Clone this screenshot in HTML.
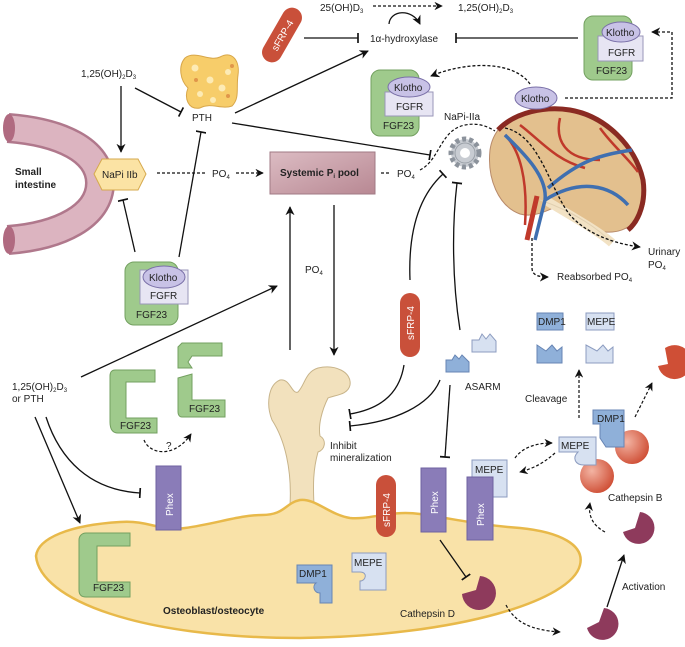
<!DOCTYPE html>
<html><head><meta charset="utf-8"><style>
html,body{margin:0;padding:0;background:#fff;width:685px;height:647px;overflow:hidden}
svg{display:block}
text{font-family:"Liberation Sans",Arial,sans-serif;font-size:10px;fill:#222}
.w{fill:#fff}
</style></head><body>
<svg width="685" height="647" viewBox="0 0 685 647" xmlns="http://www.w3.org/2000/svg">
<defs>
<marker id="ar" viewBox="0 0 10 10" refX="9" refY="5" markerWidth="7" markerHeight="7" orient="auto"><path d="M0,0 L10,5 L0,10 L3,5z" fill="#111"/></marker>
<marker id="bar" viewBox="0 0 10 10" refX="5" refY="5" markerWidth="8" markerHeight="8" orient="auto"><path d="M5,0 L5,10" stroke="#111" stroke-width="1.6"/></marker>
<linearGradient id="pool" x1="0" y1="0" x2="1" y2="1"><stop offset="0" stop-color="#dcbcc3"/><stop offset="1" stop-color="#b88893"/></linearGradient>
<radialGradient id="redb" cx="0.35" cy="0.35" r="0.7"><stop offset="0" stop-color="#f3b4a3"/><stop offset="1" stop-color="#cf4f36"/></radialGradient>
</defs>

<!-- intestine -->
<path d="M8,128 C60,132 100,150 100,183 C100,216 60,236 8,240" fill="none" stroke="#b0788c" stroke-width="30"/>
<path d="M8,128 C60,132 100,150 100,183 C100,216 60,236 8,240" fill="none" stroke="#dcb4c0" stroke-width="25"/>
<ellipse cx="9" cy="128" rx="6" ry="14" fill="#b06a80"/>
<ellipse cx="9" cy="240" rx="6" ry="14" fill="#b06a80"/>
<text x="15" y="175" font-weight="bold">Small</text>
<text x="15" y="188" font-weight="bold">intestine</text>
<polygon points="94,174 102,159 138,159 146,174 138,190 102,190" fill="#fbe3a4" stroke="#d6a94e"/>
<text x="102" y="178">NaPi IIb</text>

<text x="81" y="77">1,25(OH)<tspan font-size="6" dy="2">2</tspan><tspan dy="-2">D</tspan><tspan font-size="6" dy="2">3</tspan></text>
<line x1="121" y1="86" x2="121" y2="152" stroke="#111" stroke-width="1.3" marker-end="url(#ar)"/>
<line x1="135" y1="88" x2="181" y2="112" stroke="#111" stroke-width="1.3" marker-end="url(#bar)"/>

<!-- PTH gland -->
<path d="M185,58 C195,50 210,62 220,57 C233,50 240,62 238,75 C236,88 240,98 232,106 C222,110 210,102 200,108 C188,110 184,98 188,88 C180,80 178,66 185,58z" fill="#f7cd6a" stroke="#d8a74a"/>
<g fill="#fdebb5"><circle cx="195" cy="68" r="3.5"/><circle cx="210" cy="80" r="3.5"/><circle cx="200" cy="94" r="3"/><circle cx="222" cy="88" r="3.5"/><circle cx="213" cy="100" r="3"/><circle cx="228" cy="72" r="3"/></g>
<g fill="#e0964a"><circle cx="232" cy="66" r="2"/><circle cx="196" cy="80" r="2"/><circle cx="228" cy="96" r="2"/></g>
<text x="192" y="121" font-size="11">PTH</text>
<line x1="235" y1="113" x2="368" y2="51" stroke="#111" stroke-width="1.3" marker-end="url(#ar)"/>
<line x1="232" y1="123" x2="430" y2="155" stroke="#111" stroke-width="1.3" marker-end="url(#bar)"/>

<!-- sFRP top -->
<g transform="translate(282,35) rotate(-60)"><rect x="-30" y="-10" width="60" height="20" rx="10" fill="#c9503a"/><text class="w" x="-17" y="4">sFRP-4</text></g>
<line x1="304" y1="38" x2="358" y2="38" stroke="#111" stroke-width="1.3" marker-end="url(#bar)"/>
<text x="370" y="42">1α-hydroxylase</text>
<line x1="578" y1="38" x2="456" y2="38" stroke="#111" stroke-width="1.3" marker-end="url(#bar)"/>
<text x="320" y="11">25(OH)D<tspan font-size="6" dy="2">3</tspan></text>
<line x1="373" y1="6" x2="442" y2="6" stroke="#111" stroke-dasharray="3,2" stroke-width="1.2" marker-end="url(#ar)"/>
<text x="458" y="11">1,25(OH)<tspan font-size="6" dy="2">2</tspan><tspan dy="-2">D</tspan><tspan font-size="6" dy="2">3</tspan></text>
<path d="M389,24 C390,10 412,8 420,24" fill="none" stroke="#111" stroke-width="1.3" marker-end="url(#ar)"/>

<!-- top-right complex -->
<rect x="584" y="16" width="48" height="64" rx="9" fill="#9fca8c" stroke="#73a060"/>
<rect x="598" y="36" width="45" height="25" fill="#e7e5f3" stroke="#9a96b8"/>
<ellipse cx="621" cy="32" rx="19" ry="10" fill="#c8c2e6" stroke="#7a70a8"/>
<text x="606" y="36">Klotho</text><text x="608" y="56">FGFR</text><text x="596" y="74">FGF23</text>
<!-- mid complex -->
<rect x="371" y="70" width="48" height="66" rx="9" fill="#9fca8c" stroke="#73a060"/>
<rect x="385" y="92" width="48" height="24" fill="#e7e5f3" stroke="#9a96b8"/>
<ellipse cx="409" cy="87" rx="21" ry="10" fill="#c8c2e6" stroke="#7a70a8"/>
<text x="394" y="91">Klotho</text><text x="396" y="110">FGFR</text><text x="383" y="129">FGF23</text>
<path d="M565,98 L672,98 L672,32 L652,32" fill="none" stroke="#111" stroke-dasharray="3,2" stroke-width="1.3" marker-end="url(#ar)"/>
<path d="M530,84 C515,62 470,60 431,76" fill="none" stroke="#111" stroke-dasharray="3,2" stroke-width="1.3" marker-end="url(#ar)"/>

<!-- kidney -->
<path d="M490,150 C494,122 520,108 558,110 C600,112 640,150 645,190 C648,215 630,234 605,232 C585,230 572,218 560,205 C548,210 535,218 520,214 C498,206 487,178 490,150z" fill="#e3c08e" stroke="#b88a6a" stroke-width="1"/>
<path d="M498,130 C515,112 545,106 570,110 C605,116 635,145 643,180 C646,200 640,220 628,230" fill="none" stroke="#8a2a22" stroke-width="5"/>
<path d="M545,200 C570,215 600,232 612,243" fill="none" stroke="#f2e2c4" stroke-width="9"/>
<path d="M540,200 C575,212 600,230 612,243" fill="none" stroke="#e0cfb0" stroke-width="1"/>
<path d="M505,135 C520,150 528,180 525,225 M520,125 C540,140 555,160 585,168 M560,118 C555,140 565,160 600,160 M600,128 C612,145 628,158 638,172" fill="none" stroke="#c0392b" stroke-width="2.5"/>
<path d="M535,240 L545,200 C548,175 520,150 505,135 M545,200 C580,178 610,185 628,205 M548,188 C580,160 600,155 632,150" fill="none" stroke="#3f6fb0" stroke-width="3.5"/>
<path d="M527,240 L537,196" stroke="#c0392b" stroke-width="5"/>
<ellipse cx="536" cy="98" rx="21" ry="11" fill="#c8c2e6" stroke="#7a70a8"/>
<text x="521" y="102">Klotho</text>
<text x="444" y="120">NaPi-IIa</text>
<g transform="translate(465,153)"><circle r="14" fill="#c8ccd2" stroke="#8c939c" stroke-width="5" stroke-dasharray="4,3"/><circle r="10" fill="#c8ccd2" stroke="#9aa0a8"/><circle r="5" fill="#fff"/></g>
<path d="M505,128 C540,135 550,190 570,215 C585,232 610,243 640,247" fill="none" stroke="#111" stroke-dasharray="3,2" stroke-width="1.3" marker-end="url(#ar)"/>
<text x="648" y="255">Urinary</text><text x="648" y="268">PO<tspan font-size="6" dy="2">4</tspan></text>
<path d="M532,238 L532,268 C532,275 538,277 548,277" fill="none" stroke="#111" stroke-dasharray="3,2" stroke-width="1.3" marker-end="url(#ar)"/>
<text x="557" y="280">Reabsorbed PO<tspan font-size="6" dy="2">4</tspan></text>

<!-- pool -->
<rect x="270" y="152" width="105" height="42" fill="url(#pool)" stroke="#a07a84"/>
<text x="280" y="176" font-weight="bold">Systemic P<tspan font-size="6" dy="2">i</tspan><tspan dy="-2"> pool</tspan></text>
<line x1="157" y1="173" x2="207" y2="173" stroke="#111" stroke-dasharray="3,2" stroke-width="1.2"/>
<text x="212" y="177">PO<tspan font-size="6" dy="2">4</tspan></text>
<line x1="236" y1="173" x2="263" y2="173" stroke="#111" stroke-dasharray="3,2" stroke-width="1.2" marker-end="url(#ar)"/>
<line x1="381" y1="173" x2="390" y2="173" stroke="#111" stroke-dasharray="3,2" stroke-width="1.2"/>
<text x="397" y="177">PO<tspan font-size="6" dy="2">4</tspan></text>
<path d="M420,170 C440,160 440,130 465,125 C480,122 490,128 495,131" fill="none" stroke="#111" stroke-dasharray="3,2" stroke-width="1.2"/>
<line x1="290" y1="350" x2="290" y2="207" stroke="#111" stroke-width="1.3" marker-end="url(#ar)"/>
<line x1="334" y1="205" x2="334" y2="355" stroke="#111" stroke-width="1.3" marker-end="url(#ar)"/>
<text x="305" y="273" font-size="9">PO<tspan font-size="6" dy="2">4</tspan></text>

<!-- left complex -->
<rect x="125" y="262" width="53" height="63" rx="9" fill="#9fca8c" stroke="#73a060"/>
<rect x="140" y="270" width="48" height="34" fill="#e7e5f3" stroke="#9a96b8"/>
<ellipse cx="164" cy="277" rx="21" ry="11" fill="#c8c2e6" stroke="#7a70a8"/>
<text x="149" y="281">Klotho</text><text x="150" y="299">FGFR</text><text x="136" y="318">FGF23</text>
<line x1="135" y1="252" x2="123" y2="200" stroke="#111" stroke-width="1.3" marker-end="url(#bar)"/>
<line x1="179" y1="257" x2="201" y2="132" stroke="#111" stroke-width="1.3" marker-end="url(#bar)"/>
<line x1="81" y1="377" x2="277" y2="286" stroke="#111" stroke-width="1.3" marker-end="url(#ar)"/>
<text x="12" y="390">1,25(OH)<tspan font-size="6" dy="2">2</tspan><tspan dy="-2">D</tspan><tspan font-size="6" dy="2">3</tspan></text>
<text x="12" y="402">or PTH</text>

<!-- sFRP mid + ASARM lines -->
<path d="M410,280 C408,230 420,195 443,174" fill="none" stroke="#111" stroke-width="1.3" marker-end="url(#bar)"/>
<path d="M460,330 C452,280 452,225 457,183" fill="none" stroke="#111" stroke-width="1.3" marker-end="url(#bar)"/>
<rect x="400" y="293" width="20" height="64" rx="10" fill="#c9503a"/>
<text class="w" transform="translate(414,340) rotate(-90)">sFRP-4</text>
<path d="M404,365 C400,390 385,408 350,414" fill="none" stroke="#111" stroke-width="1.3" marker-end="url(#bar)"/>
<path d="M440,380 C430,405 395,422 350,426" fill="none" stroke="#111" stroke-width="1.3" marker-end="url(#bar)"/>
<path d="M450,385 L445,457" fill="none" stroke="#111" stroke-width="1.3" marker-end="url(#bar)"/>
<text x="330" y="449">Inhibit</text><text x="330" y="461">mineralization</text>
<text x="465" y="390">ASARM</text>
<path d="M446,372 L446,360 L452,360 L455,355 L459,359 L462,355 L469,362 L469,372z" fill="#8fb0d9" stroke="#6785b4"/>
<path d="M472,352 L472,340 L479,340 L482,334 L486,339 L490,334 L496,341 L496,352z" fill="#d7e1f1" stroke="#8c9cc0"/>
<!-- cleaved DMP1/MEPE -->
<path d="M537,345 L537,363 L562,363 L562,347 L557,351 L552,345 L546,351z" fill="#8fb0d9" stroke="#6785b4"/>
<rect x="537" y="313" width="26" height="17" fill="#8fb0d9" stroke="#6785b4"/><text x="538" y="325">DMP1</text>
<path d="M586,345 L586,363 L613,363 L613,347 L608,351 L603,345 L597,351z" fill="#d7e1f1" stroke="#8c9cc0"/>
<rect x="586" y="313" width="28" height="17" fill="#d7e1f1" stroke="#8c9cc0"/><text x="587" y="325">MEPE</text>
<path d="M665,348 A17,17 0 1,1 658,366 L668,364z" fill="#cf4f36"/>
<line x1="579" y1="418" x2="579" y2="370" stroke="#111" stroke-dasharray="3,2" stroke-width="1.2" marker-end="url(#ar)"/>
<text x="525" y="402">Cleavage</text>
<line x1="635" y1="417" x2="652" y2="383" stroke="#111" stroke-dasharray="3,2" stroke-width="1.2" marker-end="url(#ar)"/>
<circle cx="632" cy="447" r="17" fill="url(#redb)"/>
<circle cx="597" cy="476" r="17" fill="url(#redb)"/>
<path d="M593,410 L624,410 L624,447 L606,447 L600,438 L600,424 L593,424z" fill="#8fb0d9" stroke="#6785b4"/><text x="597" y="422">DMP1</text>
<path d="M559,437 L596,437 L596,465 L584,465 C575,465 572,458 578,452 L559,452z" fill="#d7e1f1" stroke="#8c9cc0"/><text x="561" y="449">MEPE</text>
<text x="608" y="501">Cathepsin B</text>
<path d="M515,458 C522,448 535,443 552,443" fill="none" stroke="#111" stroke-dasharray="3,2" stroke-width="1.2" marker-end="url(#ar)"/>
<path d="M555,453 C545,462 535,468 520,472" fill="none" stroke="#111" stroke-dasharray="3,2" stroke-width="1.2" marker-end="url(#ar)"/>
<path d="M605,532 C592,525 588,515 590,503" fill="none" stroke="#111" stroke-dasharray="3,2" stroke-width="1.2" marker-end="url(#ar)"/>
<path d="M640,512 A16,16 0 1,1 623,532 L635,528z" fill="#8e3a5c"/>
<line x1="607" y1="607" x2="624" y2="555" stroke="#111" stroke-width="1.3" marker-end="url(#ar)"/>
<text x="622" y="590">Activation</text>
<path d="M604,608 A16,16 0 1,1 587,628 L599,622z" fill="#8e3a5c"/>

<!-- FGF23 cleavage -->
<path d="M115,370 L155,370 L155,382 L126,382 L126,418 L157,418 L157,433 L118,433 C112,433 110,428 110,422 L110,376 C110,372 112,370 115,370z" fill="#9fca8c" stroke="#73a060"/>
<text x="120" y="429">FGF23</text>
<path d="M182,343 L222,343 L222,356 L192,356 L188,362 L192,368 L178,368 L178,347z" fill="#9fca8c" stroke="#73a060"/>
<path d="M178,378 L192,374 L192,400 L225,400 L225,417 L182,417 C179,417 178,414 178,412z" fill="#9fca8c" stroke="#73a060"/>
<text x="189" y="412">FGF23</text>
<path d="M144,440 C150,455 175,458 191,434" fill="none" stroke="#111" stroke-dasharray="3,2" stroke-width="1.2" marker-end="url(#ar)"/>
<text x="166" y="449" font-size="9">?</text>
<path d="M46,417 C60,460 90,490 140,493" fill="none" stroke="#111" stroke-width="1.3" marker-end="url(#bar)"/>
<line x1="35" y1="417" x2="80" y2="523" stroke="#111" stroke-width="1.3" marker-end="url(#ar)"/>

<!-- bone -->
<path d="M290,505 C292,470 285,440 272,420 C266,405 268,385 280,380 C290,378 292,395 298,392 C305,385 305,372 318,368 C335,364 352,372 350,385 C348,395 335,395 328,398 C322,410 318,425 320,436 C327,440 325,450 318,452 C313,470 313,485 314,505z" fill="#f2e1bd" stroke="#c8b48a"/>

<!-- cell -->
<path d="M36,556 C38,538 70,525 120,522 C150,520 160,532 185,528 C215,524 240,515 262,515 C285,515 285,503 300,500 C315,498 330,515 350,518 C370,520 390,510 420,514 C460,520 480,525 520,528 C560,532 585,545 580,565 C572,600 460,636 300,638 C140,638 40,600 36,556z" fill="#f9e2a8" stroke="#e8b94a" stroke-width="2.5"/>
<rect x="156" y="466" width="25" height="64" fill="#8a7cb8" stroke="#6f62a0"/>
<text class="w" transform="translate(173,516) rotate(-90)">Phex</text>
<path d="M86,533 L130,533 L130,546 L97,546 L97,582 L130,582 L130,597 L86,597 C81,597 79,594 79,590 L79,540 C79,536 82,533 86,533z" fill="#9fca8c" stroke="#73a060"/>
<text x="93" y="591">FGF23</text>
<path d="M297,565 L332,565 L332,603 L320,603 L320,593 C314,593 312,586 316,583 L297,583z" fill="#8fb0d9" stroke="#6785b4"/>
<text x="299" y="577">DMP1</text>
<path d="M352,553 L386,553 L386,590 L360,590 L360,581 C366,581 368,572 360,572 L352,572z" fill="#d7e1f1" stroke="#8c9cc0"/>
<text x="354" y="566">MEPE</text>
<text x="163" y="614" font-weight="bold">Osteoblast/osteocyte</text>
<rect x="376" y="475" width="20" height="62" rx="10" fill="#c9503a"/>
<text class="w" transform="translate(390,527) rotate(-90)">sFRP-4</text>
<rect x="421" y="468" width="25" height="64" fill="#8a7cb8" stroke="#6f62a0"/>
<text class="w" transform="translate(438,514) rotate(-90)">Phex</text>
<rect x="472" y="460" width="35" height="37" fill="#d7e1f1" stroke="#8c9cc0"/>
<text x="475" y="473">MEPE</text>
<rect x="467" y="477" width="26" height="63" fill="#8a7cb8" stroke="#6f62a0"/>
<text class="w" transform="translate(484,526) rotate(-90)">Phex</text>
<line x1="440" y1="540" x2="466" y2="577" stroke="#111" stroke-width="1.3" marker-end="url(#bar)"/>
<path d="M480,576 A17,17 0 1,1 462,594 L476,590z" fill="#8e3a5c"/>
<text x="400" y="617">Cathepsin D</text>
<path d="M506,605 C515,622 530,630 560,632" fill="none" stroke="#111" stroke-dasharray="3,2" stroke-width="1.2" marker-end="url(#ar)"/>
</svg>
</body></html>
